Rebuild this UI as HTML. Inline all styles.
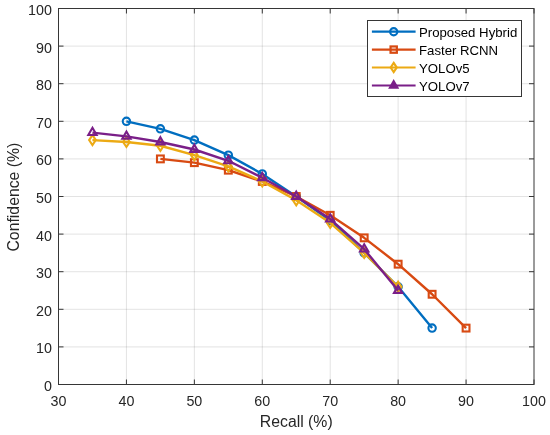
<!DOCTYPE html><html><head><meta charset="utf-8"><style>html,body{margin:0;padding:0;background:#fff;}svg{display:block;}text{font-family:'Liberation Sans', Arial, Helvetica, sans-serif;fill:#262626;}</style></head><body>
<svg width="550" height="435" viewBox="0 0 550 435">
<rect x="0" y="0" width="550" height="435" fill="#fff"/>
<path d="M126.43 8.50V384.50M194.36 8.50V384.50M262.29 8.50V384.50M330.21 8.50V384.50M398.14 8.50V384.50M466.07 8.50V384.50M58.50 346.90H534.00M58.50 309.30H534.00M58.50 271.70H534.00M58.50 234.10H534.00M58.50 196.50H534.00M58.50 158.90H534.00M58.50 121.30H534.00M58.50 83.70H534.00M58.50 46.10H534.00" stroke="#262626" stroke-opacity="0.13" stroke-width="1" fill="none"/>
<path d="M126.43 121.30 L160.39 128.82 L194.36 140.10 L228.32 155.14 L262.29 173.94 L296.25 196.50 L330.21 220.56 L364.18 252.90 L398.14 286.74 L432.11 328.10" fill="none" stroke="#006EC0" stroke-width="2.4" stroke-linejoin="round"/>
<circle cx="126.43" cy="121.30" r="3.7" fill="none" stroke="#006EC0" stroke-width="2.1"/>
<circle cx="160.39" cy="128.82" r="3.7" fill="none" stroke="#006EC0" stroke-width="2.1"/>
<circle cx="194.36" cy="140.10" r="3.7" fill="none" stroke="#006EC0" stroke-width="2.1"/>
<circle cx="228.32" cy="155.14" r="3.7" fill="none" stroke="#006EC0" stroke-width="2.1"/>
<circle cx="262.29" cy="173.94" r="3.7" fill="none" stroke="#006EC0" stroke-width="2.1"/>
<circle cx="296.25" cy="196.50" r="3.7" fill="none" stroke="#006EC0" stroke-width="2.1"/>
<circle cx="330.21" cy="220.56" r="3.7" fill="none" stroke="#006EC0" stroke-width="2.1"/>
<circle cx="364.18" cy="252.90" r="3.7" fill="none" stroke="#006EC0" stroke-width="2.1"/>
<circle cx="398.14" cy="286.74" r="3.7" fill="none" stroke="#006EC0" stroke-width="2.1"/>
<circle cx="432.11" cy="328.10" r="3.7" fill="none" stroke="#006EC0" stroke-width="2.1"/>
<path d="M160.39 158.90 L194.36 162.66 L228.32 170.18 L262.29 181.46 L296.25 196.50 L330.21 215.30 L364.18 237.86 L398.14 264.18 L432.11 294.26 L466.07 328.10" fill="none" stroke="#D84A12" stroke-width="2.4" stroke-linejoin="round"/>
<rect x="156.99" y="155.50" width="6.80" height="6.80" fill="none" stroke="#D84A12" stroke-width="2.1"/>
<rect x="190.96" y="159.26" width="6.80" height="6.80" fill="none" stroke="#D84A12" stroke-width="2.1"/>
<rect x="224.92" y="166.78" width="6.80" height="6.80" fill="none" stroke="#D84A12" stroke-width="2.1"/>
<rect x="258.89" y="178.06" width="6.80" height="6.80" fill="none" stroke="#D84A12" stroke-width="2.1"/>
<rect x="292.85" y="193.10" width="6.80" height="6.80" fill="none" stroke="#D84A12" stroke-width="2.1"/>
<rect x="326.81" y="211.90" width="6.80" height="6.80" fill="none" stroke="#D84A12" stroke-width="2.1"/>
<rect x="360.78" y="234.46" width="6.80" height="6.80" fill="none" stroke="#D84A12" stroke-width="2.1"/>
<rect x="394.74" y="260.78" width="6.80" height="6.80" fill="none" stroke="#D84A12" stroke-width="2.1"/>
<rect x="428.71" y="290.86" width="6.80" height="6.80" fill="none" stroke="#D84A12" stroke-width="2.1"/>
<rect x="462.67" y="324.70" width="6.80" height="6.80" fill="none" stroke="#D84A12" stroke-width="2.1"/>
<path d="M92.46 140.10 L126.43 141.98 L160.39 145.74 L194.36 155.14 L228.32 166.42 L262.29 181.46 L296.25 200.26 L330.21 222.82 L364.18 252.90 L398.14 286.74" fill="none" stroke="#ECAA14" stroke-width="2.4" stroke-linejoin="round"/>
<polygon points="92.46,135.10 95.81,140.10 92.46,145.10 89.11,140.10" fill="none" stroke="#ECAA14" stroke-width="2.1" stroke-miterlimit="10"/>
<polygon points="126.43,136.98 129.78,141.98 126.43,146.98 123.08,141.98" fill="none" stroke="#ECAA14" stroke-width="2.1" stroke-miterlimit="10"/>
<polygon points="160.39,140.74 163.74,145.74 160.39,150.74 157.04,145.74" fill="none" stroke="#ECAA14" stroke-width="2.1" stroke-miterlimit="10"/>
<polygon points="194.36,150.14 197.71,155.14 194.36,160.14 191.01,155.14" fill="none" stroke="#ECAA14" stroke-width="2.1" stroke-miterlimit="10"/>
<polygon points="228.32,161.42 231.67,166.42 228.32,171.42 224.97,166.42" fill="none" stroke="#ECAA14" stroke-width="2.1" stroke-miterlimit="10"/>
<polygon points="262.29,176.46 265.64,181.46 262.29,186.46 258.94,181.46" fill="none" stroke="#ECAA14" stroke-width="2.1" stroke-miterlimit="10"/>
<polygon points="296.25,195.26 299.60,200.26 296.25,205.26 292.90,200.26" fill="none" stroke="#ECAA14" stroke-width="2.1" stroke-miterlimit="10"/>
<polygon points="330.21,217.82 333.56,222.82 330.21,227.82 326.86,222.82" fill="none" stroke="#ECAA14" stroke-width="2.1" stroke-miterlimit="10"/>
<polygon points="364.18,247.90 367.53,252.90 364.18,257.90 360.83,252.90" fill="none" stroke="#ECAA14" stroke-width="2.1" stroke-miterlimit="10"/>
<polygon points="398.14,281.74 401.49,286.74 398.14,291.74 394.79,286.74" fill="none" stroke="#ECAA14" stroke-width="2.1" stroke-miterlimit="10"/>
<path d="M92.46 132.58 L126.43 136.34 L160.39 141.98 L194.36 149.50 L228.32 160.78 L262.29 177.70 L296.25 196.50 L330.21 219.06 L364.18 249.14 L398.14 290.50" fill="none" stroke="#7A1F88" stroke-width="2.4" stroke-linejoin="round"/>
<polygon points="92.46,127.78 96.62,134.98 88.31,134.98" fill="none" stroke="#7A1F88" stroke-width="2.1" stroke-miterlimit="10"/>
<polygon points="126.43,131.54 130.59,138.74 122.27,138.74" fill="none" stroke="#7A1F88" stroke-width="2.1" stroke-miterlimit="10"/>
<polygon points="160.39,137.18 164.55,144.38 156.24,144.38" fill="none" stroke="#7A1F88" stroke-width="2.1" stroke-miterlimit="10"/>
<polygon points="194.36,144.70 198.51,151.90 190.20,151.90" fill="none" stroke="#7A1F88" stroke-width="2.1" stroke-miterlimit="10"/>
<polygon points="228.32,155.98 232.48,163.18 224.16,163.18" fill="none" stroke="#7A1F88" stroke-width="2.1" stroke-miterlimit="10"/>
<polygon points="262.29,172.90 266.44,180.10 258.13,180.10" fill="none" stroke="#7A1F88" stroke-width="2.1" stroke-miterlimit="10"/>
<polygon points="296.25,191.70 300.41,198.90 292.09,198.90" fill="none" stroke="#7A1F88" stroke-width="2.1" stroke-miterlimit="10"/>
<polygon points="330.21,214.26 334.37,221.46 326.06,221.46" fill="none" stroke="#7A1F88" stroke-width="2.1" stroke-miterlimit="10"/>
<polygon points="364.18,244.34 368.34,251.54 360.02,251.54" fill="none" stroke="#7A1F88" stroke-width="2.1" stroke-miterlimit="10"/>
<polygon points="398.14,285.70 402.30,292.90 393.99,292.90" fill="none" stroke="#7A1F88" stroke-width="2.1" stroke-miterlimit="10"/>
<path d="M58.50 384.50v-5M58.50 8.50v5M126.43 384.50v-5M126.43 8.50v5M194.36 384.50v-5M194.36 8.50v5M262.29 384.50v-5M262.29 8.50v5M330.21 384.50v-5M330.21 8.50v5M398.14 384.50v-5M398.14 8.50v5M466.07 384.50v-5M466.07 8.50v5M534.00 384.50v-5M534.00 8.50v5M58.50 384.50h5M534.00 384.50h-5M58.50 346.90h5M534.00 346.90h-5M58.50 309.30h5M534.00 309.30h-5M58.50 271.70h5M534.00 271.70h-5M58.50 234.10h5M534.00 234.10h-5M58.50 196.50h5M534.00 196.50h-5M58.50 158.90h5M534.00 158.90h-5M58.50 121.30h5M534.00 121.30h-5M58.50 83.70h5M534.00 83.70h-5M58.50 46.10h5M534.00 46.10h-5M58.50 8.50h5M534.00 8.50h-5" stroke="#363636" stroke-width="1" fill="none"/>
<rect x="58.5" y="8.5" width="475.5" height="376.0" fill="none" stroke="#363636" stroke-width="1"/>
<text x="51.9" y="391.00" font-size="14.3" text-anchor="end">0</text>
<text x="51.9" y="353.40" font-size="14.3" text-anchor="end">10</text>
<text x="51.9" y="315.80" font-size="14.3" text-anchor="end">20</text>
<text x="51.9" y="278.20" font-size="14.3" text-anchor="end">30</text>
<text x="51.9" y="240.60" font-size="14.3" text-anchor="end">40</text>
<text x="51.9" y="203.00" font-size="14.3" text-anchor="end">50</text>
<text x="51.9" y="165.40" font-size="14.3" text-anchor="end">60</text>
<text x="51.9" y="127.80" font-size="14.3" text-anchor="end">70</text>
<text x="51.9" y="90.20" font-size="14.3" text-anchor="end">80</text>
<text x="51.9" y="52.60" font-size="14.3" text-anchor="end">90</text>
<text x="51.9" y="15.00" font-size="14.3" text-anchor="end">100</text>
<text x="58.50" y="405.6" font-size="14.3" text-anchor="middle">30</text>
<text x="126.43" y="405.6" font-size="14.3" text-anchor="middle">40</text>
<text x="194.36" y="405.6" font-size="14.3" text-anchor="middle">50</text>
<text x="262.29" y="405.6" font-size="14.3" text-anchor="middle">60</text>
<text x="330.21" y="405.6" font-size="14.3" text-anchor="middle">70</text>
<text x="398.14" y="405.6" font-size="14.3" text-anchor="middle">80</text>
<text x="466.07" y="405.6" font-size="14.3" text-anchor="middle">90</text>
<text x="534.00" y="405.6" font-size="14.3" text-anchor="middle">100</text>
<text x="296.25" y="427.2" font-size="15.8" text-anchor="middle">Recall (%)</text>
<text transform="translate(18.9 197.10) rotate(-90)" x="0" y="0" font-size="15.8" text-anchor="middle">Confidence (%)</text>
<rect x="367.5" y="20.5" width="154.0" height="76.0" fill="#fff" stroke="#363636" stroke-width="1"/>
<path d="M371.9 31.7H415.6" stroke="#006EC0" stroke-width="2.2"/>
<circle cx="393.70" cy="31.70" r="3.6" fill="none" stroke="#006EC0" stroke-width="2.2"/>
<text x="419.0" y="36.80" font-size="13.2" style="fill:#000">Proposed Hybrid</text>
<path d="M371.9 49.6H415.6" stroke="#D84A12" stroke-width="2.2"/>
<rect x="390.55" y="46.45" width="6.30" height="6.30" fill="none" stroke="#D84A12" stroke-width="2.2"/>
<text x="419.0" y="54.70" font-size="13.2" style="fill:#000">Faster RCNN</text>
<path d="M371.9 67.5H415.6" stroke="#ECAA14" stroke-width="2.2"/>
<polygon points="393.70,62.90 396.70,67.50 393.70,72.10 390.70,67.50" fill="none" stroke="#ECAA14" stroke-width="2.2" stroke-miterlimit="10"/>
<text x="419.0" y="72.60" font-size="13.2" style="fill:#000">YOLOv5</text>
<path d="M371.9 85.5H415.6" stroke="#7A1F88" stroke-width="2.2"/>
<polygon points="393.70,81.25 397.38,87.62 390.02,87.62" fill="#7A1F88" stroke="#7A1F88" stroke-width="2.2" stroke-miterlimit="10"/>
<text x="419.0" y="90.60" font-size="13.2" style="fill:#000">YOLOv7</text>
</svg></body></html>
